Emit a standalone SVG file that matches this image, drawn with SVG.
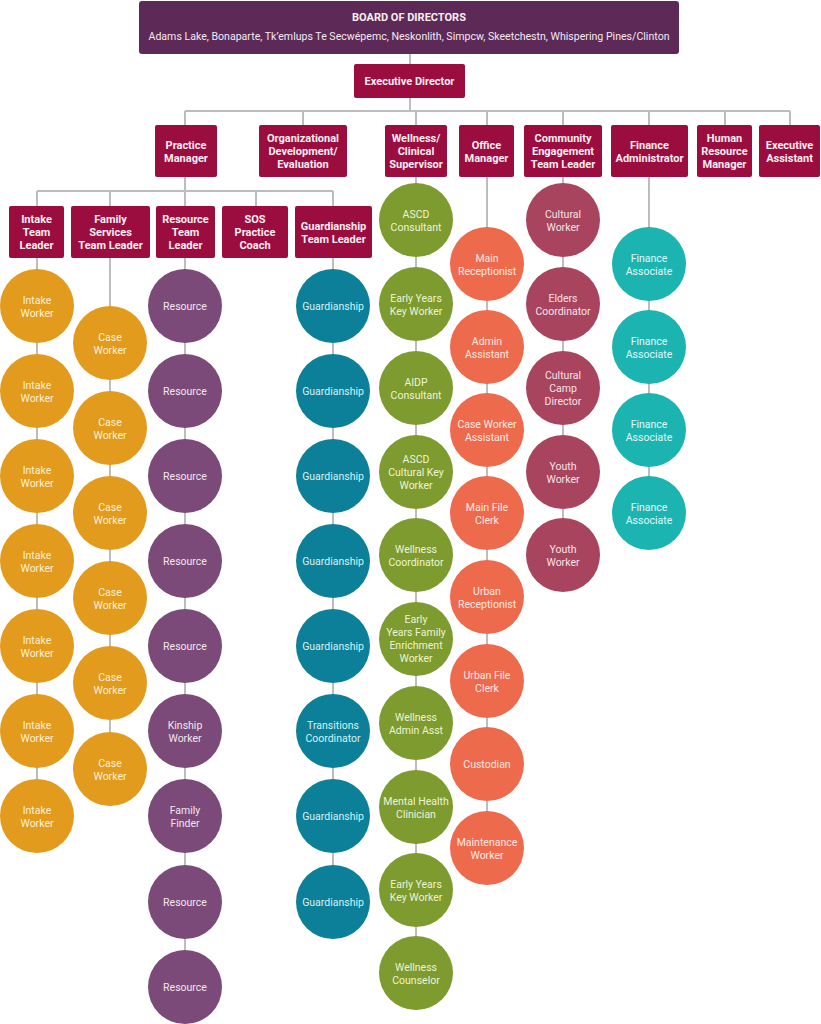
<svg xmlns="http://www.w3.org/2000/svg" width="821" height="1024" viewBox="0 0 821 1024">
<style>
.bx{fill:#9b0c3f}
.bt{font-family:Roboto,"Liberation Sans",sans-serif;font-weight:bold;font-size:11px;fill:#fbeef2;text-anchor:middle}
.ct{font-family:Roboto,"Liberation Sans",sans-serif;font-size:10.5px;text-anchor:middle}
.or{fill:#e29b1c}.orT{fill:#fbf0d8}
.pu{fill:#7b4a78}.puT{fill:#f1e6ef}
.tl{fill:#0c8098}.tlT{fill:#d6f1f6}
.gr{fill:#7d9b2e}.grT{fill:#eef3d6}
.co{fill:#ee6a4d}.coT{fill:#fde9e2}
.ro{fill:#a8445e}.roT{fill:#f6e2e8}
.tq{fill:#1bb4b1}.tqT{fill:#e3f8f7}
.ln{stroke:#bdbdbd;stroke-width:2;fill:none}
</style>
<rect width="821" height="1024" fill="#ffffff"/>
<g id="connectors" class="ln">
<path d="M410 54V64M410 98V111M185 111H790M185 111V125M303 111V125M416 111V125M487 111V125M563 111V125M649 111V125M725 111V125M790 111V125"/>
<path d="M185 177V191M37 191H333M37 191V206M110 191V206M185 191V206M256 191V206M333 191V206"/>
<path d="M37 258V816M110 258V769M185 258V987M333 258V902M416 177V973M487 177V848M563 177V555M649 177V513"/>
</g>
<g id="board"><rect x="139" y="1" width="540" height="53" rx="3" fill="#5d2a57"/>
<text class="bt" x="409" y="21" font-size="10.5">BOARD OF DIRECTORS</text>
<text class="ct" x="409" y="40" fill="#f3e8f1" font-size="11" textLength="521" lengthAdjust="spacingAndGlyphs">Adams Lake, Bonaparte, Tk’emlups Te Secwépemc, Neskonlith, Simpcw, Skeetchestn, Whispering Pines/Clinton</text></g>
<g id="exec-director"><rect class="bx" x="354" y="64" width="111" height="34" rx="2"/><text class="bt" x="409.5" y="85">Executive Director</text></g>
<g id="practice-manager"><rect class="bx" x="155" y="125" width="62" height="52" rx="2"/><text class="bt" x="186" y="148.5">Practice</text><text class="bt" x="186" y="161.5">Manager</text></g>
<g id="org-dev"><rect class="bx" x="259" y="125" width="88" height="52" rx="2"/><text class="bt" x="303" y="142">Organizational</text><text class="bt" x="303" y="155">Development/</text><text class="bt" x="303" y="168">Evaluation</text></g>
<g id="wellness-sup"><rect class="bx" x="385" y="125" width="62" height="52" rx="2"/><text class="bt" x="416" y="142">Wellness/</text><text class="bt" x="416" y="155">Clinical</text><text class="bt" x="416" y="168">Supervisor</text></g>
<g id="office-manager"><rect class="bx" x="459" y="125" width="55" height="52" rx="2"/><text class="bt" x="486.5" y="148.5">Office</text><text class="bt" x="486.5" y="161.5">Manager</text></g>
<g id="community"><rect class="bx" x="524" y="125" width="78" height="52" rx="2"/><text class="bt" x="563" y="142">Community</text><text class="bt" x="563" y="155">Engagement</text><text class="bt" x="563" y="168">Team Leader</text></g>
<g id="finance-admin"><rect class="bx" x="611" y="125" width="77" height="52" rx="2"/><text class="bt" x="649.5" y="148.5">Finance</text><text class="bt" x="649.5" y="161.5">Administrator</text></g>
<g id="hr-manager"><rect class="bx" x="697" y="125" width="55" height="52" rx="2"/><text class="bt" x="724.5" y="142">Human</text><text class="bt" x="724.5" y="155">Resource</text><text class="bt" x="724.5" y="168">Manager</text></g>
<g id="exec-assistant"><rect class="bx" x="759" y="125" width="61" height="52" rx="2"/><text class="bt" x="789.5" y="148.5">Executive</text><text class="bt" x="789.5" y="161.5">Assistant</text></g>
<g id="intake-tl"><rect class="bx" x="9" y="206" width="55" height="52" rx="2"/><text class="bt" x="36.5" y="223">Intake</text><text class="bt" x="36.5" y="236">Team</text><text class="bt" x="36.5" y="249">Leader</text></g>
<g id="family-tl"><rect class="bx" x="71" y="206" width="79" height="52" rx="2"/><text class="bt" x="110.5" y="223">Family</text><text class="bt" x="110.5" y="236">Services</text><text class="bt" x="110.5" y="249">Team Leader</text></g>
<g id="resource-tl"><rect class="bx" x="156" y="206" width="59" height="52" rx="2"/><text class="bt" x="185.5" y="223">Resource</text><text class="bt" x="185.5" y="236">Team</text><text class="bt" x="185.5" y="249">Leader</text></g>
<g id="sos-coach"><rect class="bx" x="222" y="206" width="66" height="52" rx="2"/><text class="bt" x="255" y="223">SOS</text><text class="bt" x="255" y="236">Practice</text><text class="bt" x="255" y="249">Coach</text></g>
<g id="guardianship-tl"><rect class="bx" x="295" y="206" width="77" height="52" rx="2"/><text class="bt" x="333.5" y="229.5">Guardianship</text><text class="bt" x="333.5" y="242.5">Team Leader</text></g>

<g id="intake-1"><circle class="or" cx="37" cy="306" r="37"/><text class="ct orT" x="37" y="303.5">Intake</text><text class="ct orT" x="37" y="316.5">Worker</text></g>
<g id="intake-2"><circle class="or" cx="37" cy="391" r="37"/><text class="ct orT" x="37" y="388.5">Intake</text><text class="ct orT" x="37" y="401.5">Worker</text></g>
<g id="intake-3"><circle class="or" cx="37" cy="476" r="37"/><text class="ct orT" x="37" y="473.5">Intake</text><text class="ct orT" x="37" y="486.5">Worker</text></g>
<g id="intake-4"><circle class="or" cx="37" cy="561" r="37"/><text class="ct orT" x="37" y="558.5">Intake</text><text class="ct orT" x="37" y="571.5">Worker</text></g>
<g id="intake-5"><circle class="or" cx="37" cy="646" r="37"/><text class="ct orT" x="37" y="643.5">Intake</text><text class="ct orT" x="37" y="656.5">Worker</text></g>
<g id="intake-6"><circle class="or" cx="37" cy="731" r="37"/><text class="ct orT" x="37" y="728.5">Intake</text><text class="ct orT" x="37" y="741.5">Worker</text></g>
<g id="intake-7"><circle class="or" cx="37" cy="816" r="37"/><text class="ct orT" x="37" y="813.5">Intake</text><text class="ct orT" x="37" y="826.5">Worker</text></g>

<g id="case-1"><circle class="or" cx="110" cy="343" r="37"/><text class="ct orT" x="110" y="340.5">Case</text><text class="ct orT" x="110" y="353.5">Worker</text></g>
<g id="case-2"><circle class="or" cx="110" cy="428" r="37"/><text class="ct orT" x="110" y="425.5">Case</text><text class="ct orT" x="110" y="438.5">Worker</text></g>
<g id="case-3"><circle class="or" cx="110" cy="513" r="37"/><text class="ct orT" x="110" y="510.5">Case</text><text class="ct orT" x="110" y="523.5">Worker</text></g>
<g id="case-4"><circle class="or" cx="110" cy="598" r="37"/><text class="ct orT" x="110" y="595.5">Case</text><text class="ct orT" x="110" y="608.5">Worker</text></g>
<g id="case-5"><circle class="or" cx="110" cy="683" r="37"/><text class="ct orT" x="110" y="680.5">Case</text><text class="ct orT" x="110" y="693.5">Worker</text></g>
<g id="case-6"><circle class="or" cx="110" cy="769" r="37"/><text class="ct orT" x="110" y="766.5">Case</text><text class="ct orT" x="110" y="779.5">Worker</text></g>

<g id="resource-1"><circle class="pu" cx="185" cy="306" r="37"/><text class="ct puT" x="185" y="310">Resource</text></g>
<g id="resource-2"><circle class="pu" cx="185" cy="391" r="37"/><text class="ct puT" x="185" y="395">Resource</text></g>
<g id="resource-3"><circle class="pu" cx="185" cy="476" r="37"/><text class="ct puT" x="185" y="480">Resource</text></g>
<g id="resource-4"><circle class="pu" cx="185" cy="561" r="37"/><text class="ct puT" x="185" y="565">Resource</text></g>
<g id="resource-5"><circle class="pu" cx="185" cy="646" r="37"/><text class="ct puT" x="185" y="650">Resource</text></g>
<g id="kinship"><circle class="pu" cx="185" cy="731" r="37"/><text class="ct puT" x="185" y="728.5">Kinship</text><text class="ct puT" x="185" y="741.5">Worker</text></g>
<g id="family-finder"><circle class="pu" cx="185" cy="816" r="37"/><text class="ct puT" x="185" y="813.5">Family</text><text class="ct puT" x="185" y="826.5">Finder</text></g>
<g id="resource-6"><circle class="pu" cx="185" cy="902" r="37"/><text class="ct puT" x="185" y="906">Resource</text></g>
<g id="resource-7"><circle class="pu" cx="185" cy="987" r="37"/><text class="ct puT" x="185" y="991">Resource</text></g>

<g id="guard-1"><circle class="tl" cx="333" cy="306" r="37"/><text class="ct tlT" x="333" y="310">Guardianship</text></g>
<g id="guard-2"><circle class="tl" cx="333" cy="391" r="37"/><text class="ct tlT" x="333" y="395">Guardianship</text></g>
<g id="guard-3"><circle class="tl" cx="333" cy="476" r="37"/><text class="ct tlT" x="333" y="480">Guardianship</text></g>
<g id="guard-4"><circle class="tl" cx="333" cy="561" r="37"/><text class="ct tlT" x="333" y="565">Guardianship</text></g>
<g id="guard-5"><circle class="tl" cx="333" cy="646" r="37"/><text class="ct tlT" x="333" y="650">Guardianship</text></g>
<g id="transitions"><circle class="tl" cx="333" cy="731" r="37"/><text class="ct tlT" x="333" y="728.5">Transitions</text><text class="ct tlT" x="333" y="741.5">Coordinator</text></g>
<g id="guard-6"><circle class="tl" cx="333" cy="816" r="37"/><text class="ct tlT" x="333" y="820">Guardianship</text></g>
<g id="guard-7"><circle class="tl" cx="333" cy="902" r="37"/><text class="ct tlT" x="333" y="906">Guardianship</text></g>

<g id="ascd-consultant"><circle class="gr" cx="416" cy="220" r="37"/><text class="ct grT" x="416" y="217.5">ASCD</text><text class="ct grT" x="416" y="230.5">Consultant</text></g>
<g id="early-years-1"><circle class="gr" cx="416" cy="304" r="37"/><text class="ct grT" x="416" y="301.5">Early Years</text><text class="ct grT" x="416" y="314.5">Key Worker</text></g>
<g id="aidp"><circle class="gr" cx="416" cy="388" r="37"/><text class="ct grT" x="416" y="385.5">AIDP</text><text class="ct grT" x="416" y="398.5">Consultant</text></g>
<g id="ascd-cultural"><circle class="gr" cx="416" cy="472" r="37"/><text class="ct grT" x="416" y="463">ASCD</text><text class="ct grT" x="416" y="476">Cultural Key</text><text class="ct grT" x="416" y="489">Worker</text></g>
<g id="wellness-coord"><circle class="gr" cx="416" cy="555" r="37"/><text class="ct grT" x="416" y="552.5">Wellness</text><text class="ct grT" x="416" y="565.5">Coordinator</text></g>
<g id="early-years-family"><circle class="gr" cx="416" cy="639" r="37"/><text class="ct grT" x="416" y="623">Early</text><text class="ct grT" x="416" y="636">Years Family</text><text class="ct grT" x="416" y="649">Enrichment</text><text class="ct grT" x="416" y="662">Worker</text></g>
<g id="wellness-admin"><circle class="gr" cx="416" cy="723" r="37"/><text class="ct grT" x="416" y="720.5">Wellness</text><text class="ct grT" x="416" y="733.5">Admin Asst</text></g>
<g id="mental-health"><circle class="gr" cx="416" cy="807" r="37"/><text class="ct grT" x="416" y="804.5">Mental Health</text><text class="ct grT" x="416" y="817.5">Clinician</text></g>
<g id="early-years-2"><circle class="gr" cx="416" cy="890" r="37"/><text class="ct grT" x="416" y="887.5">Early Years</text><text class="ct grT" x="416" y="900.5">Key Worker</text></g>
<g id="wellness-counselor"><circle class="gr" cx="416" cy="973" r="37"/><text class="ct grT" x="416" y="970.5">Wellness</text><text class="ct grT" x="416" y="983.5">Counselor</text></g>

<g id="main-receptionist"><circle class="co" cx="487" cy="264" r="37"/><text class="ct coT" x="487" y="261.5">Main</text><text class="ct coT" x="487" y="274.5">Receptionist</text></g>
<g id="admin-assistant"><circle class="co" cx="487" cy="347" r="37"/><text class="ct coT" x="487" y="344.5">Admin</text><text class="ct coT" x="487" y="357.5">Assistant</text></g>
<g id="case-worker-assistant"><circle class="co" cx="487" cy="430" r="37"/><text class="ct coT" x="487" y="427.5">Case Worker</text><text class="ct coT" x="487" y="440.5">Assistant</text></g>
<g id="main-file-clerk"><circle class="co" cx="487" cy="513" r="37"/><text class="ct coT" x="487" y="510.5">Main File</text><text class="ct coT" x="487" y="523.5">Clerk</text></g>
<g id="urban-receptionist"><circle class="co" cx="487" cy="597" r="37"/><text class="ct coT" x="487" y="594.5">Urban</text><text class="ct coT" x="487" y="607.5">Receptionist</text></g>
<g id="urban-file-clerk"><circle class="co" cx="487" cy="681" r="37"/><text class="ct coT" x="487" y="678.5">Urban File</text><text class="ct coT" x="487" y="691.5">Clerk</text></g>
<g id="custodian"><circle class="co" cx="487" cy="764" r="37"/><text class="ct coT" x="487" y="768">Custodian</text></g>
<g id="maintenance"><circle class="co" cx="487" cy="848" r="37"/><text class="ct coT" x="487" y="845.5">Maintenance</text><text class="ct coT" x="487" y="858.5">Worker</text></g>

<g id="cultural-worker"><circle class="ro" cx="563" cy="220" r="37"/><text class="ct roT" x="563" y="217.5">Cultural</text><text class="ct roT" x="563" y="230.5">Worker</text></g>
<g id="elders-coord"><circle class="ro" cx="563" cy="304" r="37"/><text class="ct roT" x="563" y="301.5">Elders</text><text class="ct roT" x="563" y="314.5">Coordinator</text></g>
<g id="camp-director"><circle class="ro" cx="563" cy="388" r="37"/><text class="ct roT" x="563" y="379">Cultural</text><text class="ct roT" x="563" y="392">Camp</text><text class="ct roT" x="563" y="405">Director</text></g>
<g id="youth-1"><circle class="ro" cx="563" cy="472" r="37"/><text class="ct roT" x="563" y="469.5">Youth</text><text class="ct roT" x="563" y="482.5">Worker</text></g>
<g id="youth-2"><circle class="ro" cx="563" cy="555" r="37"/><text class="ct roT" x="563" y="552.5">Youth</text><text class="ct roT" x="563" y="565.5">Worker</text></g>

<g id="finance-1"><circle class="tq" cx="649" cy="264" r="37"/><text class="ct tqT" x="649" y="261.5">Finance</text><text class="ct tqT" x="649" y="274.5">Associate</text></g>
<g id="finance-2"><circle class="tq" cx="649" cy="347" r="37"/><text class="ct tqT" x="649" y="344.5">Finance</text><text class="ct tqT" x="649" y="357.5">Associate</text></g>
<g id="finance-3"><circle class="tq" cx="649" cy="430" r="37"/><text class="ct tqT" x="649" y="427.5">Finance</text><text class="ct tqT" x="649" y="440.5">Associate</text></g>
<g id="finance-4"><circle class="tq" cx="649" cy="513" r="37"/><text class="ct tqT" x="649" y="510.5">Finance</text><text class="ct tqT" x="649" y="523.5">Associate</text></g>
</svg>
